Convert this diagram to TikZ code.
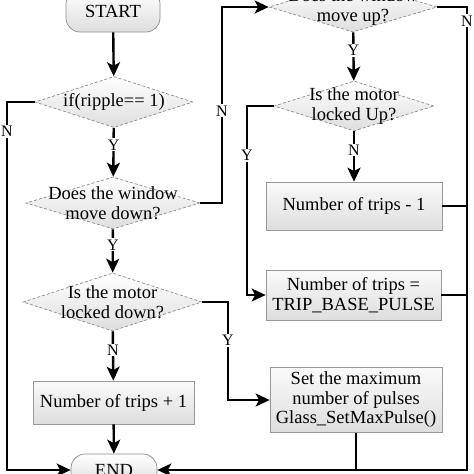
\documentclass[tikz,border=0pt]{standalone}
\usepackage{fontspec}
\setmainfont{Liberation Serif}
\usetikzlibrary{shapes.geometric,arrows.meta}
\begin{document}
\begin{tikzpicture}[x=1pt,y=-1pt,
  dia/.style={diamond, draw=black!45, dash pattern=on 3pt off 2pt, line width=0.7pt,
    top color=white, bottom color=black!13, inner sep=0pt, text=black},
  box/.style={rectangle, draw=black!40, line width=0.7pt,
    top color=black!2, bottom color=black!13, inner sep=0pt},
  term/.style={rectangle, rounded corners=14pt, draw=black!45, line width=0.7pt,
    top color=white, bottom color=black!13, inner sep=0pt},
  txt/.style={align=center, inner sep=0pt, font=\fontsize{18.5}{19.5}\selectfont},
  yn/.style={fill=white, inner sep=1.2pt, font=\fontsize{16}{16}\selectfont},
  conn/.style={line width=2.4pt, black},
  arr/.style={conn, -{Stealth[length=14pt,width=13pt,inset=3.5pt]}}
]
\useasboundingbox (0,0) rectangle (474,474);

% shapes
\node[term, minimum width=94pt, minimum height=42pt] (start) at (113,11) {};
\node[txt] (startt) at (113,11) {START};
\node[dia, minimum width=158pt, minimum height=51pt] (d1) at (114,102) {};
\node[txt] (d1t) at (114,102) {if(ripple== 1)};
\node[dia, minimum width=174pt, minimum height=52pt] (d2) at (113,203) {};
\node[txt] (d2t) at (113,203) {Does the window\\move down?};
\node[dia, minimum width=179pt, minimum height=58pt] (d3) at (112.5,302) {};
\node[txt] (d3t) at (112.5,302) {Is the motor\\locked down?};
\node[box, minimum width=161pt, minimum height=43pt] (b1) at (113.5,402.5) {};
\node[txt] (b1t) at (113.5,402.5) {Number of trips + 1};
\node[term, minimum width=86pt, minimum height=32pt] (end) at (114,470) {};
\node[txt] (endt) at (114,470) {END};

\node[dia, minimum width=168pt, minimum height=50pt] (d4) at (353,7) {};
\node[txt] (d4t) at (353,7) {Does the window\\move up?};
\node[dia, minimum width=160pt, minimum height=50pt] (d5) at (354,106) {};
\node[txt] (d5t) at (354,106) {Is the motor\\locked Up?};
\node[box, minimum width=176pt, minimum height=48pt] (b2) at (354,206) {};
\node[txt] (b2t) at (354,206) {Number of trips - 1};
\node[box, minimum width=175pt, minimum height=50pt] (b3) at (353.5,295) {};
\node[txt] (b3t) at (353.5,295) {Number of trips =\\TRIP\_BASE\_PULSE};
\node[box, minimum width=172pt, minimum height=65pt] (b4) at (356,400) {};
\node[txt] (b4t) at (356,400) {Set the maximum\\number of pulses\\Glass\_SetMaxPulse()};

% routing coordinates
\coordinate (xL) at (7,0);
\coordinate (xA) at (222,0);
\coordinate (xB) at (228,0);
\coordinate (xC) at (247,0);
\coordinate (xR) at (467,0);

% connectors
\draw[arr] (start) -- (d1);
\draw[arr] (d1) -- node[yn,pos=0.35]{Y} (d2);
\draw[arr] (d1.west) -- (d1.west -| xL) -- node[yn,pos=0.08]{N} (xL |- end.west) -- (end.west);
\draw[arr] (d2.east) -- (d2.east -| xA) -- node[yn,pos=0.47]{N} (xA |- d4.west) -- (d4.west);
\draw[arr] (d2) -- node[yn,pos=0.36]{Y} (d3);
\draw[arr] (d3) -- node[yn,pos=0.38]{N} (b1);
\draw[arr] (b1) -- (end);
\draw[arr] (d3.east) -- (d3.east -| xB) -- node[yn,pos=0.39]{Y} (xB |- b4.west) -- (b4.west);
\draw[arr] (d4) -- node[yn,pos=0.37]{Y} (d5);
\draw[arr] (d5) -- node[yn,pos=0.37]{N} (b2);
\draw[arr] (d5.west) -- (d5.west -| xC) -- node[yn,pos=0.26]{Y} (xC |- b3.west) -- (b3.west);
\draw[arr] (d4.east) -- (d4.east -| xR) -- node[yn,pos=0.03]{N} (xR |- end.east) -- (end.east);
\draw[conn] (b2.east) -- (b2.east -| xR);
\draw[conn] (b3.east) -- (b3.east -| xR);
\draw[conn] (b4.south) -- (b4.south |- end.east);
\end{tikzpicture}
\end{document}
